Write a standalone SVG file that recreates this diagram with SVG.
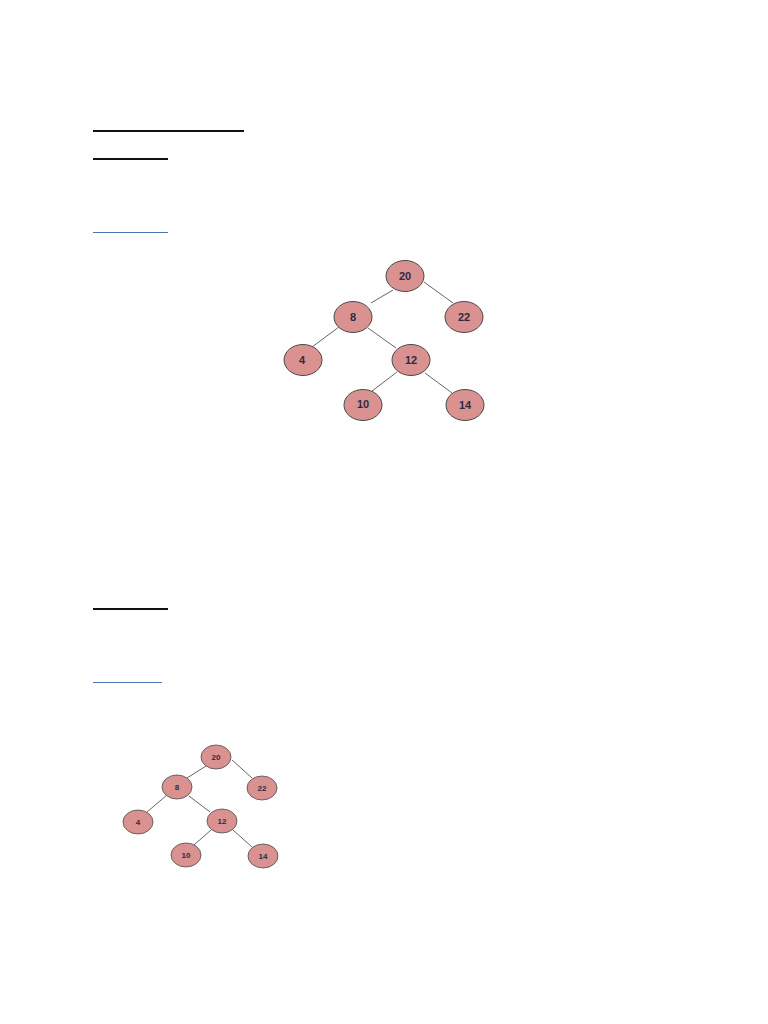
<svg xmlns="http://www.w3.org/2000/svg" width="768" height="1024" viewBox="0 0 768 1024">
<style>
.n1 ellipse{fill:#d9928f;stroke:#4a4a4a;stroke-width:1}
.n1 text{font-family:"Liberation Sans",Arial,sans-serif;font-weight:bold;font-size:11px;fill:#2b2b45;text-anchor:middle;dominant-baseline:central}
.n2 ellipse{fill:#d9928f;stroke:#4a4a4a;stroke-width:0.8}
.n2 text{font-family:"Liberation Sans",Arial,sans-serif;font-weight:bold;font-size:8px;fill:#2b2b45;text-anchor:middle;dominant-baseline:central}
.e line{stroke:#555;stroke-width:0.9}
.ul{stroke:#111;stroke-width:2}
.lk{stroke:#4a78b5;stroke-width:1.2}
</style>
<rect width="768" height="1024" fill="#fff"/>
<line class="ul" x1="93" y1="131" x2="244" y2="131"/>
<line class="ul" x1="93" y1="159" x2="168" y2="159"/>
<line class="lk" x1="93" y1="232.5" x2="168" y2="232.5"/>
<line class="ul" x1="93" y1="609" x2="168" y2="609"/>
<line class="lk" x1="93" y1="682.5" x2="162" y2="682.5"/>
<g id="edges1" class="e">
<line x1="393" y1="290" x2="371" y2="303"/>
<line x1="424" y1="282" x2="453" y2="303"/>
<line x1="339" y1="327" x2="312" y2="347"/>
<line x1="368" y1="328" x2="396" y2="348"/>
<line x1="397" y1="372" x2="372" y2="391"/>
<line x1="425" y1="373" x2="452" y2="393"/>
</g>
<g id="t1-20" class="n1"><ellipse cx="405" cy="276" rx="19" ry="15.5"/><text x="405" y="276">20</text></g>
<g id="t1-8" class="n1"><ellipse cx="353" cy="317" rx="19" ry="15.5"/><text x="353" y="317">8</text></g>
<g id="t1-22" class="n1"><ellipse cx="464" cy="317" rx="19" ry="15.5"/><text x="464" y="317">22</text></g>
<g id="t1-4" class="n1"><ellipse cx="303" cy="360" rx="19" ry="15.5"/><text x="302" y="360">4</text></g>
<g id="t1-12" class="n1"><ellipse cx="411" cy="360" rx="19" ry="15.5"/><text x="411" y="360">12</text></g>
<g id="t1-10" class="n1"><ellipse cx="363" cy="405" rx="19" ry="15.5"/><text x="363" y="404">10</text></g>
<g id="t1-14" class="n1"><ellipse cx="465" cy="405" rx="19" ry="15.5"/><text x="465" y="405">14</text></g>
<g id="edges2" class="e">
<line x1="206" y1="766" x2="187" y2="778"/>
<line x1="232" y1="760" x2="252" y2="778"/>
<line x1="167" y1="795" x2="147" y2="812"/>
<line x1="189" y1="796" x2="210" y2="812"/>
<line x1="211" y1="830" x2="194" y2="845"/>
<line x1="233" y1="830" x2="252" y2="847"/>
</g>
<g id="t2-20" class="n2"><ellipse cx="216" cy="757" rx="15" ry="12"/><text x="216" y="757">20</text></g>
<g id="t2-8" class="n2"><ellipse cx="177" cy="787" rx="15" ry="12"/><text x="177" y="787">8</text></g>
<g id="t2-22" class="n2"><ellipse cx="262" cy="788" rx="15" ry="12"/><text x="262" y="788">22</text></g>
<g id="t2-4" class="n2"><ellipse cx="138" cy="822" rx="15" ry="12"/><text x="138" y="822">4</text></g>
<g id="t2-12" class="n2"><ellipse cx="222" cy="821" rx="15" ry="12"/><text x="222" y="821">12</text></g>
<g id="t2-10" class="n2"><ellipse cx="186" cy="855" rx="15" ry="12"/><text x="186" y="855">10</text></g>
<g id="t2-14" class="n2"><ellipse cx="263" cy="856" rx="15" ry="12"/><text x="263" y="856">14</text></g>
</svg>
